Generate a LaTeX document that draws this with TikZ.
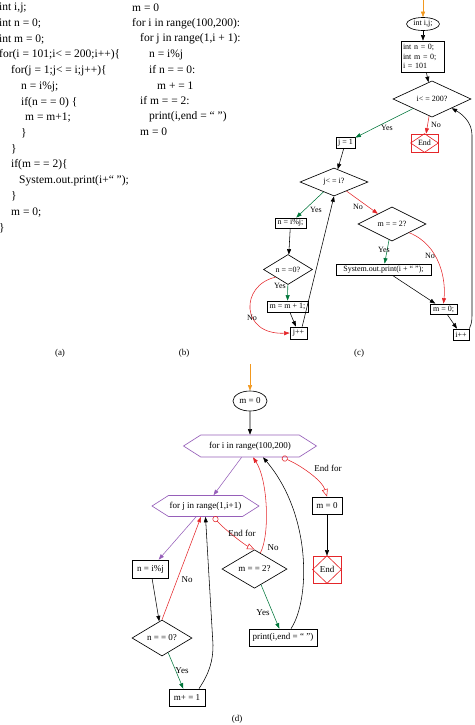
\documentclass[tikz,border=0pt]{standalone}
\usepackage{fontspec}
\setmainfont{Liberation Serif}
\usetikzlibrary{shapes.geometric, shapes.symbols, arrows.meta, positioning, calc}
\definecolor{flowgreen}{RGB}{0,118,58}
\definecolor{flowred}{RGB}{228,38,42}
\definecolor{loopviolet}{RGB}{150,95,185}
\definecolor{startorange}{RGB}{242,152,30}

\begin{document}
\begin{tikzpicture}[x=1pt, y=-1pt,
    code/.style={anchor=west, inner sep=0pt, font=\fontsize{11.5}{13}\selectfont},
    cbox/.style={rectangle, draw, line width=0.75pt, inner sep=1.5pt, font=\fontsize{8}{9.5}\selectfont},
    cdec/.style={diamond, draw, line width=0.65pt, inner sep=0pt, font=\fontsize{8}{9.5}\selectfont},
    dbox/.style={rectangle, draw, line width=0.75pt, inner sep=2pt, minimum height=17pt, font=\fontsize{9}{10}\selectfont},
    ddec/.style={diamond, draw, line width=0.65pt, inner sep=0pt, font=\fontsize{9}{10}\selectfont},
    loopbox/.style={signal, signal to=west and east, signal pointer angle=65, draw=loopviolet, line width=0.65pt, inner sep=0pt, font=\fontsize{9}{10}\selectfont},
    endbox/.style={rectangle, draw=flowred, line width=0.65pt, inner sep=0pt},
    clbl/.style={inner sep=0pt, font=\fontsize{8}{9}\selectfont},
    dlbl/.style={inner sep=0pt, font=\fontsize{9}{10}\selectfont},
    arrow/.style={-{Triangle[length=5.5pt, width=4pt]}, line width=0.55pt},
    yes/.style={arrow, flowgreen},
    no/.style={arrow, flowred},
    endfor/.style={{Circle[open, length=6pt]}-{Triangle[open, length=7.5pt, width=6pt]}, line width=0.55pt, flowred}
]
\useasboundingbox (0,0) rectangle (474,725);

% (a) C code
\foreach \ind/\txt [count=\k] in {-1/{int i,j;}, -1/{int n = 0;}, -1/{int m = 0;},
    -1/{for(i = 101;i< = 200;i++)\{}, 11/{for(j = 1;j< = i;j++)\{}, 21/{n = i\%j;},
    21/{if(n = = 0) \{}, 25/{m = m+1;}, 21/{\}}, 11/{\}}, 11/{if(m = = 2)\{},
    19/{System.out.print(i+`` '');}, 11/{\}}, 11/{m = 0;}, -1/{\}}}
  \node[code] (a\k) at (\ind, {8+15.7*(\k-1)}) {\txt};

% (b) Python code
\foreach \ind/\txt [count=\k] in {132/{m = 0}, 132/{for i in range(100,200):},
    140/{for j in range(1,i + 1):}, 149/{n = i\%j}, 149/{if n = = 0:}, 157/{m + = 1},
    140/{if m = = 2:}, 149/{print(i,end = `` '')}, 140/{m = 0}}
  \node[code] (b\k) at (\ind, {8+15.5*(\k-1)}) {\txt};

% panel captions
\node[dlbl] (capa) at (60,353) {(a)};
\node[dlbl] (capb) at (184,353) {(b)};
\node[dlbl] (capc) at (359,353) {(c)};
\node[dlbl] (capd) at (237,719) {(d)};

% (c) nodes
\coordinate (cstart) at (423,-3);
\node[ellipse, draw, line width=0.65pt, inner sep=0pt, minimum width=33pt, minimum height=13pt, font=\fontsize{8}{9.5}\selectfont] (cij) at (423,24) {int i,j;};
\node[cbox, align=left, text width=40pt, minimum height=31pt] (cinit) at (423,56.5) {int n = 0;\\int m = 0;\\i = 101};
\node[cdec, minimum width=78pt, minimum height=23pt] (c200) at (432,99) {i< = 200?};
\node[endbox, minimum width=27pt, minimum height=18pt, font=\fontsize{8}{9.5}\selectfont] (cend) at (424.5,143) {End};
\draw[flowred, line width=0.65pt] (cend.north) -- (cend.east) -- (cend.south) -- (cend.west) -- cycle;
\node[cbox, minimum width=19pt, minimum height=11pt] (cj1) at (345.5,142.5) {j = 1};
\node[cdec, minimum width=68pt, minimum height=23pt] (cji) at (334,182) {j< = i?};
\node[cbox, minimum width=31pt, minimum height=10pt] (cnij) at (290.5,223) {n = i\%j;};
\node[cdec, minimum width=49pt, minimum height=17pt] (cn0) at (288,269.5) {n = =0?};
\node[cbox, minimum width=41pt, minimum height=11pt] (cmm1) at (287.5,306.5) {m = m + 1;};
\node[cbox, minimum width=17pt, minimum height=12pt] (cjpp) at (298.5,333) {j++};
\node[cdec, minimum width=68pt, minimum height=20pt] (cm2) at (392,224) {m = = 2?};
\node[cbox, minimum width=95pt, minimum height=11pt] (csys) at (383.5,269.5) {System.out.print(i + `` '');};
\node[cbox, minimum width=27pt, minimum height=10pt] (cm0) at (443.5,309) {m = 0;};
\node[cbox, minimum width=16pt, minimum height=11pt] (cipp) at (461,334.5) {i++};

% (c) arrows
\draw[arrow, startorange] (cstart) -- (cij.north);
\draw[arrow] (cij) -- (cinit);
\draw[arrow] (cinit) -- (c200);
\draw[yes] (c200) -- (cj1);
\draw[no] (c200) -- (cend);
\draw[arrow] (cj1) -- (cji);
\draw[yes] (cji) -- (cnij);
\draw[arrow] (cnij) -- (cn0);
\draw[yes] (cn0) -- (cmm1);
\draw[arrow] (cmm1) -- (cjpp);
\draw[no] (cn0.south west) .. controls (240,285) and (240,335) .. (cjpp.west);
\draw[arrow] (cjpp.60) -- (cji.south);
\draw[no] (cji) -- (cm2);
\draw[yes] (cm2) -- (csys);
\draw[no] (cm2.south east) .. controls (440,245) and (446,280) .. (cm0.north);
\draw[arrow] (csys) -- (cm0);
\draw[arrow] (cm0) -- (cipp);
\draw[arrow] (cipp.north east) .. controls (472,322) .. (472,310) -- (472,135) .. controls (472,122) and (462,114) .. (c200.south east);

% (c) labels
\node[clbl] (cyes1) at (387,128) {Yes};
\node[clbl] (cno1) at (436,125) {No};
\node[clbl] (cyes2) at (316,210) {Yes};
\node[clbl] (cno2) at (358,207) {No};
\node[clbl] (cyes3) at (280,286) {Yes};
\node[clbl] (cno3) at (252,318) {No};
\node[clbl] (cyes4) at (384,250) {Yes};
\node[clbl] (cno4) at (430,256) {No};

% (d) nodes
\coordinate (dstart) at (250,364);
\node[ellipse, draw, line width=0.65pt, inner sep=0pt, minimum width=34pt, minimum height=20pt, font=\fontsize{9}{10}\selectfont] (dm0) at (250,401) {m = 0};
\node[loopbox, minimum width=133pt, minimum height=22pt] (dfori) at (250,446) {for i in range(100,200)};
\node[loopbox, minimum width=107pt, minimum height=21pt] (dforj) at (205.5,506) {for j in range(1,i+1)};
\node[dbox, minimum width=30pt] (dm0e) at (327,505.5) {m = 0};
\node[endbox, minimum width=28pt, minimum height=27pt, font=\fontsize{9}{10}\selectfont] (dend) at (327,569.5) {End};
\draw[flowred, line width=0.65pt] (dend.north) -- (dend.east) -- (dend.south) -- (dend.west) -- cycle;
\node[dbox, minimum width=36pt, minimum height=18pt] (dnij) at (150.5,569) {n = i\%j};
\node[ddec, minimum width=65pt, minimum height=28pt] (dm2) at (254.5,569) {m = = 2?};
\node[dbox, minimum width=68pt] (dpr) at (283,637.5) {print(i,end = `` '')};
\node[ddec, minimum width=60pt, minimum height=28pt] (dn0) at (162,638) {n = = 0?};
\node[dbox, minimum width=36pt] (dmp1) at (187,697.5) {m+ = 1};

% (d) arrows
\draw[arrow, startorange] (dstart) -- (dm0.north);
\draw[arrow] (dm0) -- (dfori);
\draw[arrow, loopviolet] (dfori) -- (dforj);
\draw[endfor] ($(dfori.south)+(32,0)$) .. controls (300,465) and (322,480) .. (dm0e.north);
\draw[arrow] (dm0e) -- (dend);
\draw[arrow, loopviolet] (dforj) -- (dnij);
\draw[endfor] ($(dforj.south)+(8,0)$) .. controls (225,530) and (245,545) .. (dm2.north);
\draw[no] (dm2.70) .. controls (270,535) and (268,480) .. ($(dfori.south)+(3,0)$);
\draw[arrow] ($(dpr.north)+(8,0)$) .. controls (310,600) and (312,515) .. ($(dfori.south)+(13,0)$);
\draw[yes] (dm2) -- (dpr);
\draw[arrow] (dnij) -- (dn0);
\draw[no] (dn0.north) -- ($(dforj.south)+(-4.5,0)$);
\draw[yes] (dn0) -- (dmp1);
\draw[arrow] ($(dmp1.north)+(12,0)$) .. controls (210,672) and (213,660) .. (213,645) -- (dforj.south);

% (d) labels
\node[dlbl] (dendfor1) at (328,468) {End for};
\node[dlbl] (dendfor2) at (242,533) {End for};
\node[dlbl] (dno1) at (273,548) {No};
\node[dlbl] (dyes1) at (263,613) {Yes};
\node[dlbl] (dno2) at (187,580) {No};
\node[dlbl] (dyes2) at (182,671) {Yes};

\end{tikzpicture}
\end{document}
